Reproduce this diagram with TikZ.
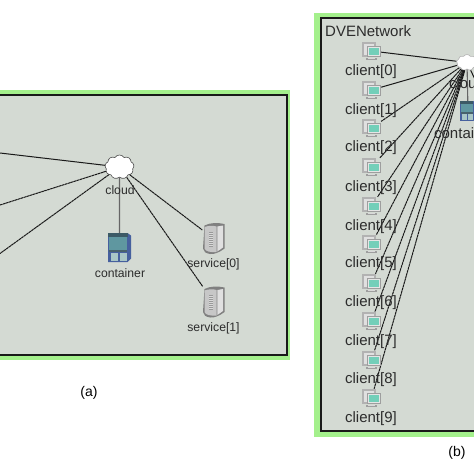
\documentclass[tikz,border=0pt]{standalone}
\usepackage{fontspec}
\setmainfont{Liberation Sans}
\usetikzlibrary{shapes.symbols}
\definecolor{panelgrey}{HTML}{D4DAD3}
\definecolor{panelgreen}{HTML}{A4F08C}
\definecolor{inktext}{HTML}{2C2C2C}
\definecolor{contside}{HTML}{46609E}
\definecolor{conttop}{HTML}{3C5A66}
\definecolor{contmain}{HTML}{5F97A0}
\definecolor{contband}{HTML}{48626C}
\definecolor{contdoor}{HTML}{A9C6C6}
\tikzset{
  panelouter/.style={fill=panelgreen,draw=none},
  panelinner/.style={fill=panelgrey,draw=black!90,line width=2pt},
  cloudbox/.style={cloud,cloud puffs=9,cloud puff arc=115,aspect=1.2,fill=white,draw=black!70,line width=0.6pt,inner sep=0pt},
  linkline/.style={draw=black!90,line width=1pt},
  dashlink/.style={draw=black!90,line width=1pt,dash pattern=on 2.6pt off 0.5pt},
  uprightlink/.style={draw=black!60,line width=1.1pt},
  smalllabel/.style={font=\fontsize{12.2}{14}\selectfont,text=inktext,inner sep=0pt},
  biglabel/.style={font=\fontsize{15}{17}\selectfont,text=inktext,inner sep=0pt},
  caption/.style={font=\fontsize{14}{16}\selectfont,text=black,inner sep=0pt},
  pcicon/.pic={
    \fill[black!30] (-9.5,-9) rectangle (4,6);
    \fill[black!12] (-8,-7.5) rectangle (2.5,4);
    \fill[black!38] (-5,-5) rectangle (9.5,6);
    \fill[black!10] (-4,-4) rectangle (8.5,5);
    \fill[cyan!45!green!55!white] (-2.5,-3) rectangle (7,4);
    \fill[black!38] (-6,6.5) rectangle (5,9);
    \fill[black!15] (-4,7) rectangle (3,8.2);
  },
  containericon/.pic={
    \fill[contside] (-11.5,-14.5) -- (8,-14.5) -- (11.5,-12) -- (11.5,11) -- (8,14.5) -- (-11.5,14.5) -- cycle;
    \fill[conttop] (-11.5,-14.5) rectangle (8,-11);
    \fill[contmain] (-10.5,-10.5) rectangle (7,2);
    \fill[contband] (-10.5,2) rectangle (7,4.5);
    \fill[contdoor] (-9,5) rectangle (-2,13.5);
    \fill[contdoor] (0,5) rectangle (7,13.5);
  },
  serviceicon/.pic={
    \fill[black!50] (-9,-13) .. controls (-3,-16) and (4,-16) .. (11,-14.5) -- (11,10) .. controls (6,14) and (0,16) .. (-3,15.5) .. controls (-8,15) and (-10,13) .. (-10.5,10) -- cycle;
    \fill[black!22] (-9,-11.5) .. controls (-5,-13) and (0,-13) .. (3,-12) -- (3,13.5) .. controls (-3,14) and (-8,13) .. (-9,10) -- cycle;
    \fill[black!12] (3.8,-12) -- (9.5,-13) -- (9.5,9) -- (3.8,13) -- cycle;
    \fill[black!40] (-5,-7) rectangle (-0.5,8);
    \foreach \k in {-6,-4,...,7} {\fill[black!15] (-4.5,\k) rectangle (-1,\k+0.8);}
  }
}
\begin{document}
\begin{tikzpicture}[x=1pt,y=-1pt]
\clip (0,0) rectangle (474,474);
\fill[white] (0,0) rectangle (474,474);
% panels
\path[panelouter] (-10,90) rectangle (290,359.5);
\path[panelinner] (-10,95) rectangle (286.5,355);
\path[panelouter] (314,13) rectangle (484,437);
\path[panelinner] (320.5,18) rectangle (484,430.5);
% panel (a) nodes
\node[cloudbox,minimum width=29pt,minimum height=24pt] (clouda) at (119.5,167) {};
\node[rectangle,inner sep=0pt,minimum width=23pt,minimum height=29pt] (containera) at (119.5,247.5) {};
\node[rectangle,inner sep=0pt,minimum width=22pt,minimum height=31pt] (service0) at (213.5,238.5) {};
\node[rectangle,inner sep=0pt,minimum width=22pt,minimum height=31pt] (service1) at (213.5,302) {};
\coordinate (freea) at (0,153);
\coordinate (freeb) at (0,205);
\coordinate (freec) at (0,253.5);
% panel (b) nodes
\node[cloudbox,draw=black!30,minimum width=21pt,minimum height=16pt] (cloudb) at (467,62.5) {};
\node[rectangle,inner sep=0pt,minimum width=16pt,minimum height=19pt] (containerb) at (468,111) {};
\coordinate (freed) at (480,90);
\foreach \i/\iy in {0/51,1/90,2/128,3/167,4/206,5/244,6/283,7/321,8/360,9/398}{
  \node[rectangle,inner sep=0pt,minimum width=19pt,minimum height=18pt] (client\i) at (371.5,\iy) {};
}
% connectors
\draw[linkline] (clouda) -- (freea);
\draw[dashlink] (clouda) -- (freeb);
\draw[dashlink] (clouda) -- (freec);
\draw[uprightlink] (clouda) -- (containera);
\draw[dashlink] (clouda) -- (service0);
\draw[dashlink] (clouda) -- (service1);
\draw[linkline] (cloudb) -- (client0);
\draw[linkline] (cloudb) -- (client1);
\foreach \i in {2,...,9}{
  \draw[dashlink] (cloudb) -- (client\i);
}
\draw[uprightlink] (cloudb) -- (containerb);
\draw[linkline] (cloudb) -- (freed);
% icons
\pic at (containera) {containericon};
\pic at (service0) {serviceicon};
\pic at (service1) {serviceicon};
\pic[scale=0.68] at (containerb) {containericon};
\foreach \i in {0,...,9}{
  \pic at (client\i) {pcicon};
}
% labels
\node[smalllabel] (labcloud) at (120,190.5) {cloud};
\node[smalllabel] (labcont) at (120,273) {container};
\node[smalllabel] (labs0) at (213.5,264.5) {service[0]};
\node[smalllabel] (labs1) at (213.5,328) {service[1]};
\node[biglabel,anchor=west] (dve) at (325,31.5) {DVENetwork};
\node[biglabel] (labcloudb) at (467,83) {cloud};
\node[biglabel] (labcontb) at (465,133) {container};
\foreach \i/\ly in {0/72,1/111,2/148,3/188,4/227,5/264,6/303,7/342,8/380,9/419}{
  \node[biglabel] (labc\i) at (371,\ly) {client[\i]};
}
\node[caption] (capa) at (89,393) {(a)};
\node[caption] (capb) at (457,453) {(b)};
\end{tikzpicture}
\end{document}
